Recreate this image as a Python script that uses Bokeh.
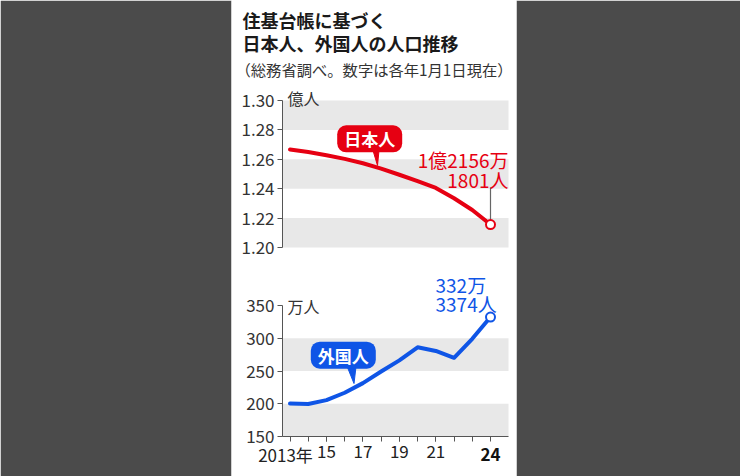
from bokeh.plotting import figure
from bokeh.models import LinearAxis, FixedTicker, Range1d, Label, PrintfTickFormatter
from bokeh.core.properties import value
from bokeh.embed import file_html
from bokeh.resources import INLINE

# ---------------- data ----------------
years = list(range(2013, 2025))
japanese = [1.2667, 1.2650, 1.2628, 1.2603, 1.2573, 1.2537, 1.2495, 1.2452,
            1.2405, 1.2335, 1.2255, 1.21561801]          # 億人
foreign = [200.4, 199.5, 205.5, 216.8, 231.5, 249.2, 266.2, 286.2,
           280.6, 270.2, 299.2, 332.3374]                # 万人
jp_ticks = [1.20, 1.22, 1.24, 1.26, 1.28, 1.30]
fr_ticks = [150, 200, 250, 300, 350]
year_label_ticks = [2013, 2015, 2017, 2019, 2021, 2024]
year_labels = ["2013年", "15", "17", "19", "21", "24"]
title_lines = ["住基台帳に基づく", "日本人、外国人の人口推移"]
subtitle = "（総務省調べ。数字は各年1月1日現在）"
jp_unit, fr_unit = "億人", "万人"
jp_name, fr_name = "日本人", "外国人"
jp_end_label = ["1億2156万", "1801人"]
fr_end_label = ["332万", "3374人"]

# ---------------- style ----------------
FONT = "Noto Sans CJK JP"
DARK = "#4b4b4b"
BAND = "#e8e8e8"
RED = "#e60012"
BLUE = "#0f55e6"
TXT = "#333333"
AXIS = "#555555"

# pixel layout helpers (reference geometry, page coordinates)
PX_2013, PX_2024 = 289.5, 490.0
px_per_year = (PX_2024 - PX_2013) / (years[-1] - years[0])
def xd(px):
    return years[0] + (px - PX_2013) / px_per_year

JP_TOP_PX, JP_BOT_PX = 100.0, 247.0
jp_ppu = (JP_BOT_PX - JP_TOP_PX) / (jp_ticks[-1] - jp_ticks[0])
def yj(py):
    return jp_ticks[-1] - (py - JP_TOP_PX) / jp_ppu

FR_TOP_PX, FR_BOT_PX = 305.0, 436.0
fr_ppu = (FR_BOT_PX - FR_TOP_PX) / (fr_ticks[-1] - fr_ticks[0])
def yf(py):
    return fr_ticks[-1] - (py - FR_TOP_PX) / fr_ppu

W, H = 740, 476
PAGE_TOP, PAGE_BOT = 0, H
PANEL_L, PANEL_R = 231, 516

p = figure(width=W, height=H,
           x_range=Range1d(xd(PANEL_L), xd(PANEL_R)),
           y_range=Range1d(yj(PAGE_BOT), yj(PAGE_TOP)),
           x_axis_location=None, y_axis_location=None,
           toolbar_location=None, output_backend="svg",
           min_border_left=PANEL_L, min_border_right=W - PANEL_R,
           min_border_top=0, min_border_bottom=0,
           background_fill_color="white", border_fill_color=DARK,
           outline_line_color=None)
p.title.visible = False
p.extra_y_ranges = {"fr": Range1d(yf(PAGE_BOT), yf(PAGE_TOP))}
p.grid.visible = False

axis_x = xd(282)
band_right = xd(508)

# bands
jp_bands = list(zip(jp_ticks[0::2], jp_ticks[1::2]))
fr_bands = list(zip(fr_ticks[0::2], fr_ticks[1::2]))
p.quad(left=axis_x, right=band_right, bottom=[b for b, t in jp_bands],
       top=[t for b, t in jp_bands], fill_color=BAND, line_color=None)
p.quad(left=axis_x, right=band_right, bottom=[b for b, t in fr_bands],
       top=[t for b, t in fr_bands], fill_color=BAND, line_color=None,
       y_range_name="fr")

# lines
p.line(years, japanese, line_color=RED, line_width=4, line_join="round", line_cap="round")
p.line(years, foreign, line_color=BLUE, line_width=4, line_join="round", line_cap="round",
       y_range_name="fr")

# leader line for japanese end label
p.segment(x0=[years[-1]], y0=[yj(187)], x1=[years[-1]], y1=[japanese[-1]],
          line_color="#666666", line_width=1.2)

# end markers
p.scatter([years[-1]], [japanese[-1]], size=9, fill_color="white", line_color=RED, line_width=2)
p.scatter([years[-1]], [foreign[-1]], size=9, fill_color="white", line_color=BLUE, line_width=2,
          y_range_name="fr")

# callout pointers
p.patch([xd(371), xd(379), xd(377)], [yj(145), yj(145), yj(165)],
        fill_color=RED, line_color=RED, line_width=1)
p.patch([xd(345), xd(356), xd(353.5)], [yf(362), yf(362), yf(383)],
        fill_color=BLUE, line_color=BLUE, line_width=1, y_range_name="fr")

# end value labels (text glyphs)
p.text(x=[xd(508)] * 2, y=[yj(159), yj(179)], text=jp_end_label,
       text_font=value(FONT), text_font_size="19px", text_color=RED,
       text_align="right", text_baseline="middle")
p.text(x=[xd(435)] * 2, y=[yf(284), yf(303)], text=fr_end_label,
       text_font=value(FONT), text_font_size="19px", text_color=BLUE,
       text_align="left", text_baseline="middle", y_range_name="fr")

# axes
ax_jp = LinearAxis(fixed_location=axis_x, bounds=(jp_ticks[0], jp_ticks[-1]),
                   ticker=FixedTicker(ticks=jp_ticks),
                   formatter=PrintfTickFormatter(format="%.2f"))
ax_fr = LinearAxis(fixed_location=axis_x, bounds=(fr_ticks[0], fr_ticks[-1]),
                   ticker=FixedTicker(ticks=fr_ticks), y_range_name="fr")
mid_ticks = year_label_ticks[1:-1]
ax_x = LinearAxis(fixed_location=fr_ticks[0], bounds=(axis_x, band_right), y_range_name="fr",
                  ticker=FixedTicker(ticks=mid_ticks, minor_ticks=years),
                  major_label_overrides={y: l for y, l in zip(year_label_ticks, year_labels)
                                         if y in mid_ticks})
for ax in (ax_jp, ax_fr, ax_x):
    ax.axis_label = None
    ax.axis_line_color = AXIS
    ax.axis_line_width = 1
    ax.major_tick_line_color = AXIS
    ax.minor_tick_line_color = AXIS
    ax.major_tick_in = 0
    ax.major_tick_out = 5
    ax.minor_tick_in = 0
    ax.minor_tick_out = 0
    ax.major_label_text_font = FONT
    ax.major_label_text_font_size = "17px"
    ax.major_label_text_color = TXT
    ax.major_label_standoff = 3
ax_x.minor_tick_out = 5
ax_x.major_label_text_color = "#222222"
ax_x.major_label_standoff = 3
p.add_layout(ax_jp, "left")
p.add_layout(ax_fr, "left")
p.add_layout(ax_x, "below")

def lab(x, y, text, size, color=TXT, bold=False, align="left", rng="default", **kw):
    l = Label(x=x, y=y, text=text, text_font=FONT, text_font_size=size,
              text_color=color, text_font_style="bold" if bold else "normal",
              text_align=align, text_baseline="middle", y_range_name=rng, **kw)
    p.add_layout(l)
    return l

# titles
lab(xd(242), yj(19), title_lines[0], "18px", color="#1a1a1a", bold=True)
lab(xd(242), yj(42), title_lines[1], "18px", color="#1a1a1a", bold=True)
lab(xd(235), yj(68.5), subtitle, "15.3px", color=TXT)

# units
lab(xd(287), yj(97), jp_unit, "16px")
lab(xd(287), yf(305), fr_unit, "16px", rng="fr")

# callout boxes
lab(xd(369.2), yj(138.3), jp_name, "17px", color="white", bold=True, align="center",
    background_fill_color=RED, border_radius=9, padding=(7, 1))
lab(xd(342.8), yf(354.7), fr_name, "17px", color="white", bold=True, align="center",
    background_fill_color=BLUE, border_radius=9, padding=(7, 1), rng="fr")

# first and last year labels (first shifted like the reference, last in bold)
lab(xd(285), yf(454), year_labels[0], "17px", color="#222222", align="center", rng="fr")
lab(year_label_ticks[-1], yf(454), year_labels[-1], "17px", color="#111111", bold=True,
    align="center", rng="fr")

open("out.html", "w").write(file_html(p, INLINE, title="人口推移"))
